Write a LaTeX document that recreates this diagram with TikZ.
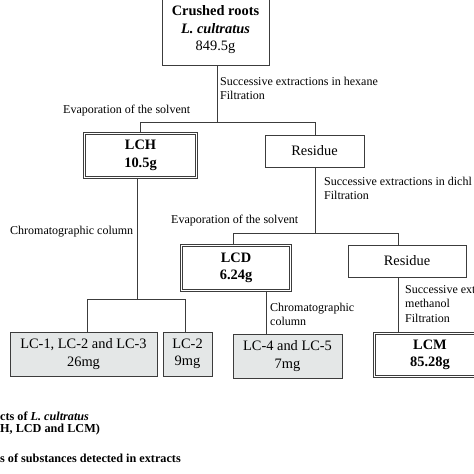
\documentclass[tikz,border=0pt]{standalone}
\usepackage{fontspec}
\setmainfont{Liberation Serif}
\definecolor{boxgray}{RGB}{228,231,231}
\definecolor{linegray}{RGB}{60,60,60}
\begin{document}
\begin{tikzpicture}[x=1pt,y=-1pt,
  box/.style={draw=linegray, line width=0.8pt, fill=white, align=center, inner sep=0pt,
    font=\fontsize{14.4}{17.5}\selectfont},
  dbox/.style={box, double=white, double distance=1.5pt, line width=0.6pt,
    font=\fontsize{14.4}{17.5}\selectfont\bfseries},
  gbox/.style={box, fill=boxgray},
  note/.style={anchor=west, align=left, inner sep=0pt, font=\fontsize{12}{14.2}\selectfont},
  legend/.style={note, font=\fontsize{12.2}{14}\selectfont\bfseries},
  conn/.style={draw=linegray, line width=0.7pt}]
\useasboundingbox (0,0) rectangle (474,474);
\clip (0,0) rectangle (474,474);
\fill[white] (0,0) rectangle (474,474);

% boxes
\node[box, minimum width=107pt, minimum height=70pt] (top) at (215.5,30)
  {\textbf{Crushed roots}\\\textbf{\textit{L. cultratus}}\\849.5g};
\node[dbox, minimum width=112pt, minimum height=44pt] (lch) at (140.5,155.5) {LCH\\10.5g};
\node[box, minimum width=99pt, minimum height=32pt] (res1) at (314.5,151) {Residue};
\node[dbox, minimum width=109pt, minimum height=45pt] (lcd) at (236,268) {LCD\\6.24g};
\node[box, minimum width=118pt, minimum height=32pt] (res2) at (407,261) {Residue};
\node[gbox, minimum width=147pt, minimum height=44pt] (lc123) at (83.5,354) {LC-1, LC-2 and LC-3\\26mg};
\node[gbox, minimum width=49pt, minimum height=44pt] (lc2) at (187.5,354) {LC-2\\9mg};
\node[gbox, minimum width=109pt, minimum height=44pt] (lc45) at (287.5,356) {LC-4 and LC-5\\7mg};
\node[dbox, minimum width=111pt, minimum height=43pt] (lcm) at (430,355) {LCM\\85.28g};

% junction coordinates
\coordinate (j1) at (217,122);
\coordinate (j1l) at (140,122);
\coordinate (j1r) at (315,122);
\coordinate (j2) at (315,233);
\coordinate (j2l) at (233,233);
\coordinate (j2r) at (398,233);
\coordinate (j3) at (137,299);
\coordinate (j3l) at (87,299);
\coordinate (j3r) at (185,299);
\coordinate (k4) at (266,310);

% connectors
\draw[conn] (j1 |- top.south) -- (j1);
\draw[conn] (j1l |- lch.north) -- (j1l) -- (j1r) -- (j1r |- res1.north);
\draw[conn] (j2 |- res1.south) -- (j2);
\draw[conn] (j2l |- lcd.north) -- (j2l) -- (j2r) -- (j2r |- res2.north);
\draw[conn] (j3 |- lch.south) -- (j3);
\draw[conn] (j3l |- lc123.north) -- (j3l) -- (j3r) -- (j3r |- lc2.north);
\draw[conn] (k4 |- lcd.south) -- (k4 |- lc45.north);
\draw[conn] (j2r |- res2.south) -- (j2r |- lcm.north);

% notes
\node[note] (n1) at (220,88) {Successive extractions in hexane\\Filtration};
\node[note] (n2) at (63,111) {Evaporation of the solvent};
\node[note] (n3) at (324,188) {Successive extractions in dichl\\Filtration};
\node[note] (n4) at (171,221) {Evaporation of the solvent};
\node[note] (n5) at (10,232) {Chromatographic column};
\node[note] (n6) at (270,314.5) {Chromatographic\\column};
\node[note] (n7) at (405,304) {Successive ext\\methanol\\Filtration};

% legend
\node[legend] (lg1) at (0,416) {cts of \textit{L. cultratus}};
\node[legend] (lg2) at (0,430) {H, LCD and LCM)};
\node[legend] (lg3) at (0,458) {s of substances detected in extracts};
\end{tikzpicture}
\end{document}
